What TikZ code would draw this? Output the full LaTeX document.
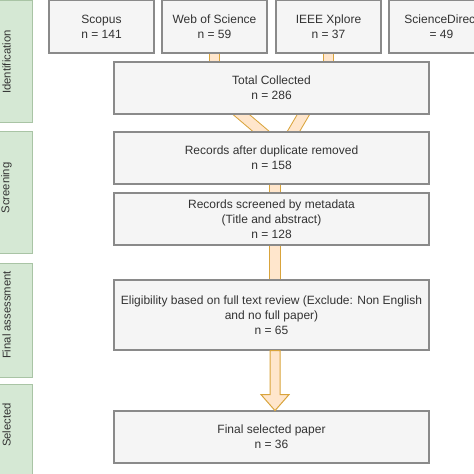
\documentclass[tikz,border=0pt]{standalone}
\usepackage{fontspec}
\setmainfont{Liberation Sans}
\definecolor{boxfill}{HTML}{F5F5F5}
\definecolor{boxline}{HTML}{8A8A8A}
\definecolor{txt}{HTML}{333333}
\definecolor{phfill}{HTML}{D5E8D4}
\definecolor{phline}{HTML}{A9C4A5}
\definecolor{arfill}{HTML}{FFE6CC}
\definecolor{arline}{HTML}{D9A43C}
\tikzset{
  box/.style={draw=boxline, fill=boxfill, line width=1.2bp, text=txt, align=center,
    font=\fontsize{12bp}{15bp}\selectfont, inner sep=0pt, minimum width=315bp, minimum height=52bp},
  srcbox/.style={box, minimum width=105bp, minimum height=53bp},
  phase/.style={draw=phline, fill=phfill, line width=1bp},
  phtext/.style={rotate=90, text=txt, font=\fontsize{11.3bp}{13bp}\selectfont, inner sep=0pt},
  barout/.style={line width=11.5bp, color=arline},
  barin/.style={line width=9.5bp, color=arfill},
  arrowst/.style={draw=arline, fill=arfill, line width=1bp, line join=miter}
}
\begin{document}
\begin{tikzpicture}[x=1bp, y=-1bp]
\useasboundingbox (0,0) rectangle (474,474);
\clip (0,0) rectangle (474,474);
% phase bars
\draw[phase] (-20,1) rectangle (32,123);
\draw[phase] (-20,132) rectangle (32,253);
\draw[phase] (-20,263) rectangle (32,377);
\draw[phase] (-20,384) rectangle (32,490);
\node[phtext] (p1) at (6.5,62) {Identification};
\node[phtext] (p2) at (6.5,188) {Screening};
\node[phtext] (p3) at (6.5,315) {Final assessment};
\node[phtext] (p4) at (6.5,425) {Selected};
% centres
\path (101.5,26.5) coordinate (scopc) (214.5,26.5) coordinate (wosc) (328.5,26.5) coordinate (ieeec)
      (441.5,26.5) coordinate (sdc)
      (271.5,88) coordinate (totc) (271.5,158) coordinate (dupc)
      (271.5,219) coordinate (scrc) (271.5,315) coordinate (eligc) (271.5,437) coordinate (finc);
\coordinate (da1) at (230,105);
\coordinate (da2) at (270,139);
\coordinate (db1) at (309,105);
\coordinate (db2) at (289,139);
% connectors drawn before boxes
\draw[barout] (wosc) -- (wosc |- totc);
\draw[barin] (wosc) -- (wosc |- totc);
\draw[barout] (ieeec) -- (ieeec |- totc);
\draw[barin] (ieeec) -- (ieeec |- totc);
\draw[barout] (da1) -- (da2);
\draw[barin] (da1) -- (da2);
\draw[barout] (db1) -- (db2);
\draw[barin] (db1) -- (db2);
\draw[barout] ([xshift=3.5bp]dupc) -- ([xshift=3.5bp]scrc);
\draw[barin] ([xshift=3.5bp]dupc) -- ([xshift=3.5bp]scrc);
\draw[barout] ([xshift=3.5bp]scrc) -- ([xshift=3.5bp]eligc);
\draw[barin] ([xshift=3.5bp]scrc) -- ([xshift=3.5bp]eligc);
% boxes
\node[srcbox] (scopus) at (scopc) {Scopus\\n = 141};
\node[srcbox] (wos) at (wosc) {Web of Science\\n = 59};
\node[srcbox] (ieee) at (ieeec) {IEEE Xplore\\n = 37};
\node[srcbox] (sd) at (sdc) {ScienceDirect\\= 49};
\node[box] (total) at (totc) {Total Collected\\n = 286};
\node[box] (dup) at (dupc) {Records after duplicate removed\\n = 158};
\node[box] (scr) at (scrc) {Records screened by metadata\\(Title and abstract)\\n = 128};
\node[box, minimum height=70bp] (elig) at (eligc) {Eligibility based on full text review (Exclude: Non English\\and no full paper)\\n = 65};
\node[box] (fin) at (finc) {Final selected paper\\n = 36};
% final arrow
\draw[arrowst] ([xshift=-1.5bp]elig.south) -- ++(0,44) -- ++(-9,0) -- ++(14,16) -- ++(14,-16) -- ++(-9,0) -- ++(0,-44) -- cycle;
\end{tikzpicture}
\end{document}
